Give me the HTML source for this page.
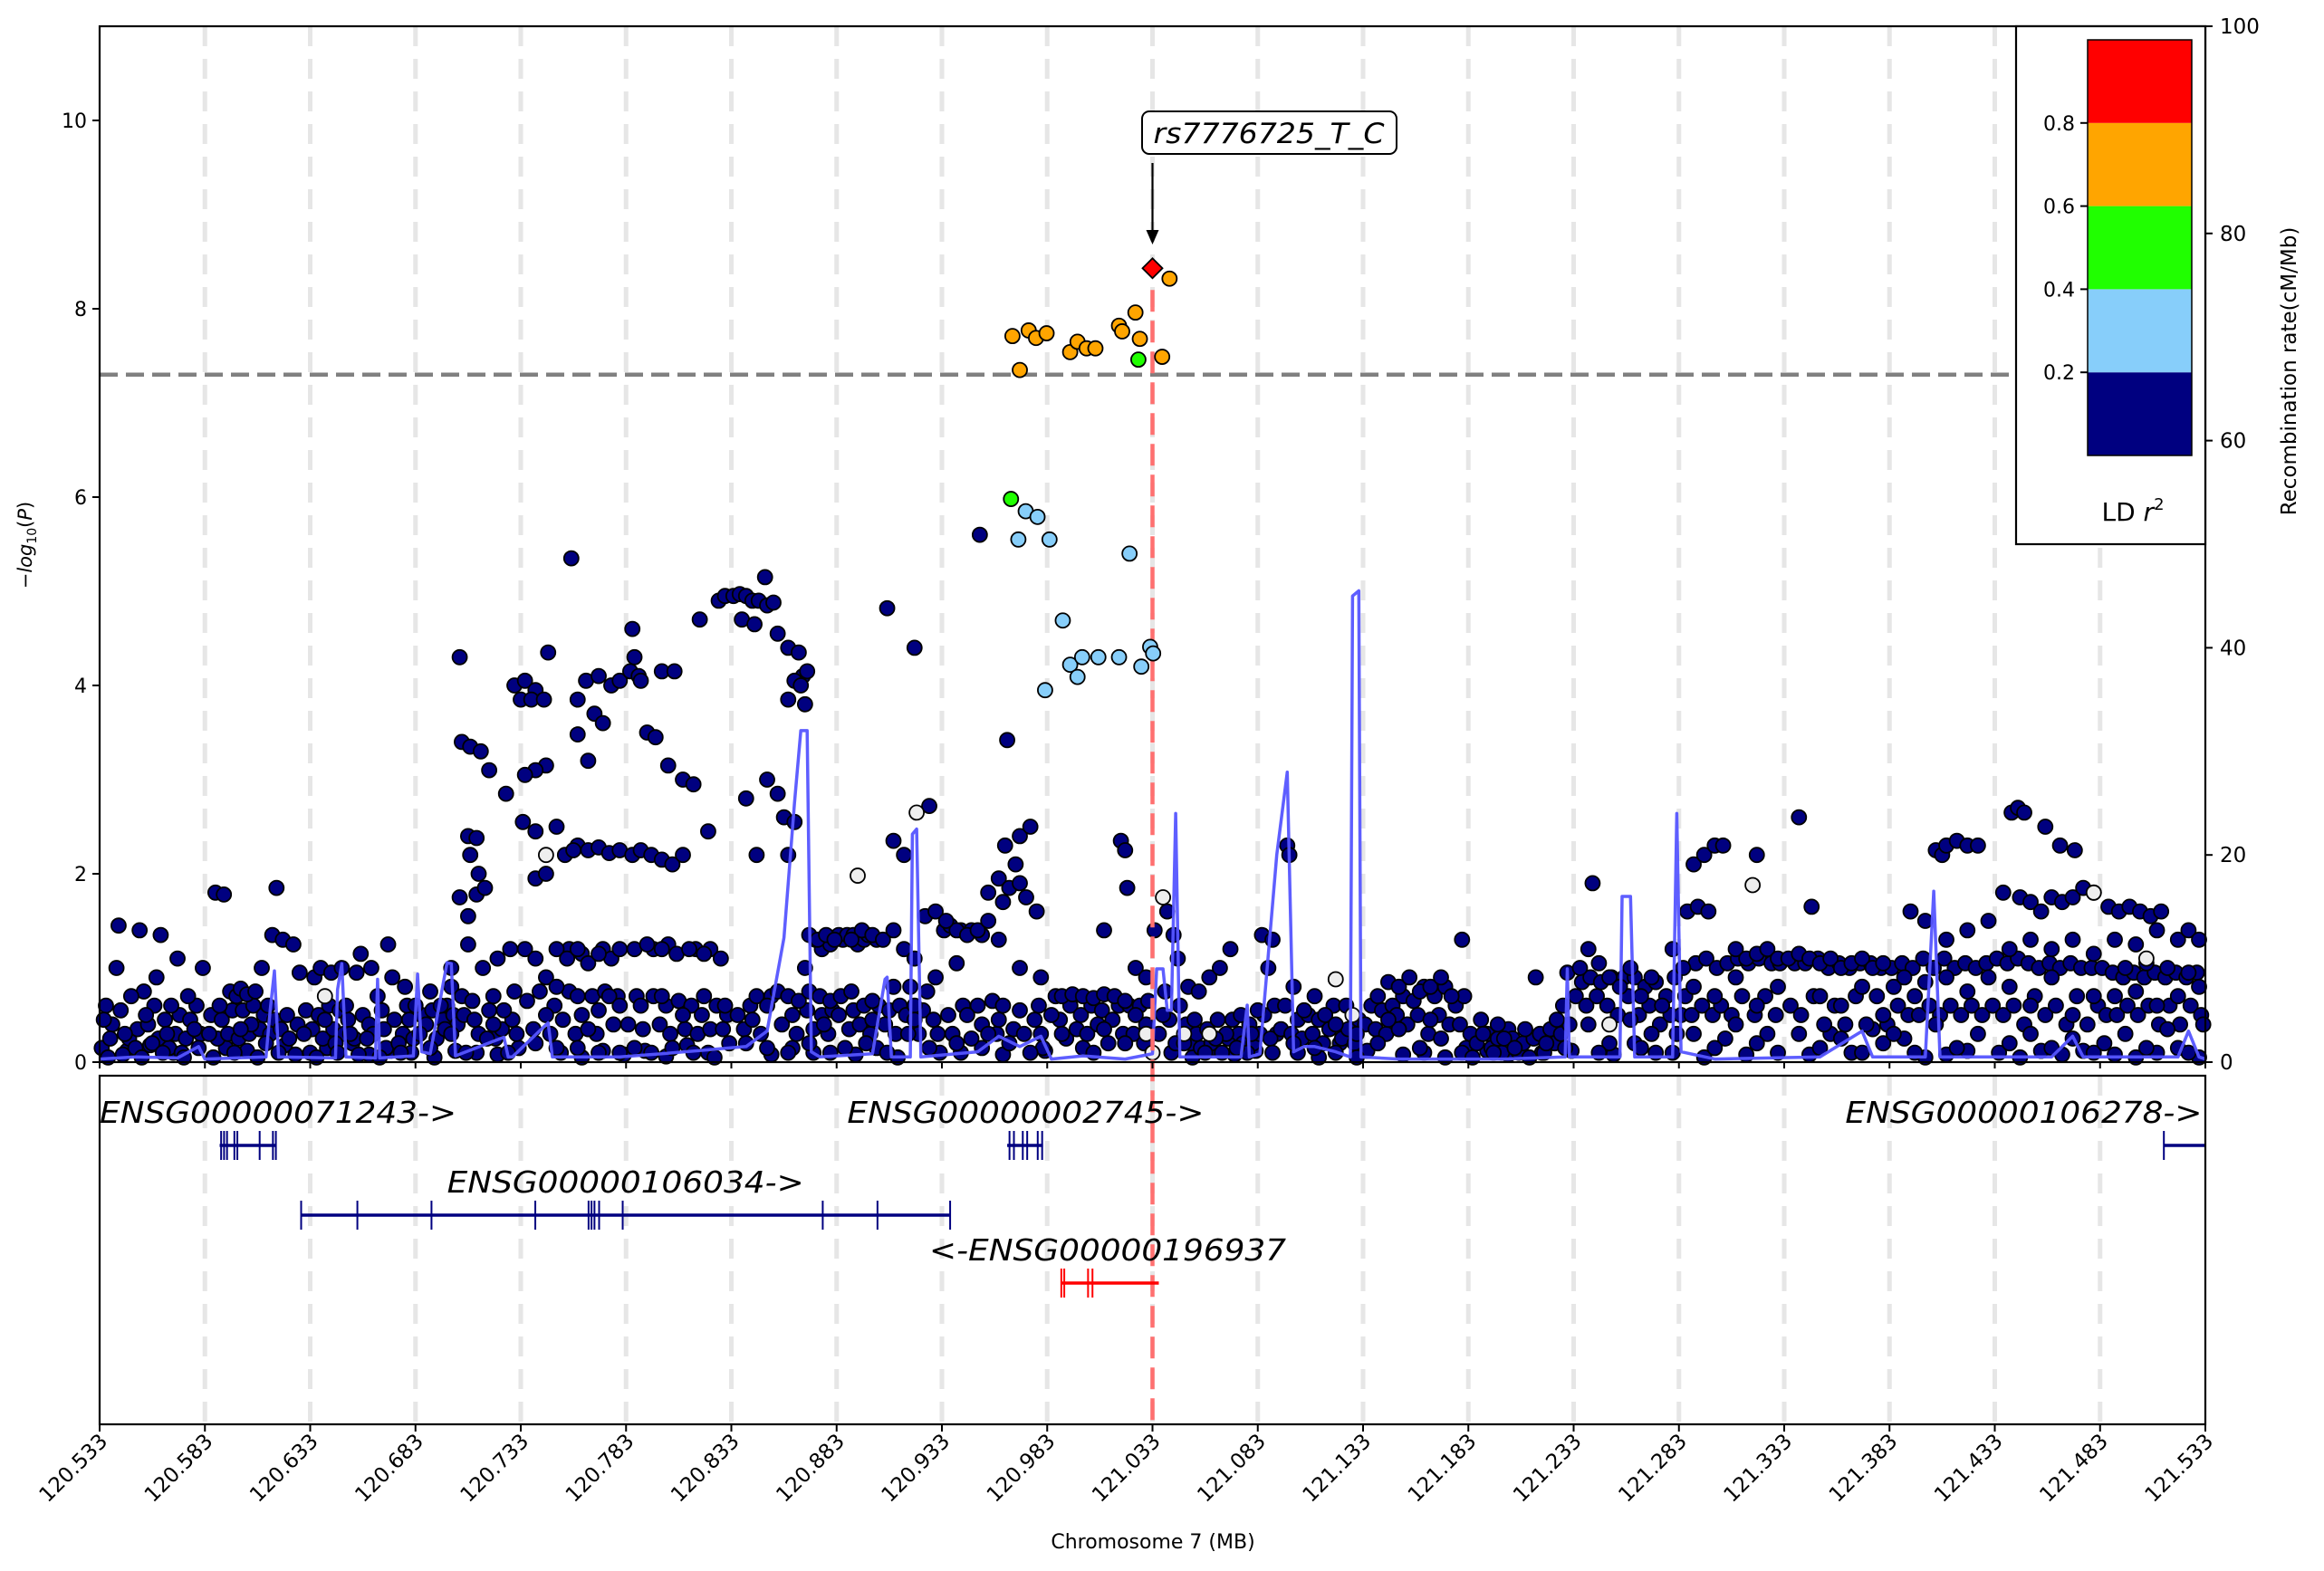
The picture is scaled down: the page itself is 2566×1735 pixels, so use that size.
<!DOCTYPE html>
<html><head><meta charset="utf-8"><style>
html,body{margin:0;padding:0;background:#fff;}
svg{display:block;font-family:"DejaVu Sans","Liberation Sans",sans-serif;}
</style></head><body>
<svg id="chart" width="2566" height="1735" viewBox="0 0 2566 1735" xmlns="http://www.w3.org/2000/svg">
<g id="grid"></g>
<g id="threshold"></g>
<g id="navy"></g>
<g id="recomb"></g>
<g id="colored"></g>
<g id="genes"></g>
<g id="axes"></g>
</svg>
<script>
const xTicks = ["120.533","120.583","120.633","120.683","120.733","120.783","120.833","120.883","120.933","120.983","121.033","121.083","121.133","121.183","121.233","121.283","121.333","121.383","121.433","121.483","121.533"];
const yTicks = [0,2,4,6,8,10];
const rTicks = [0,20,40,60,80,100];
const cbTicks = [0.2,0.4,0.6,0.8];
const threshold = 7.3;
const leadSnp = [121.033,8.43];
const leadLabel = "rs7776725_T_C";
const orangeSnps = [[120.9665,7.71],[120.9742,7.77],[120.9777,7.69],[120.9827,7.74],[120.970,7.35],[120.9939,7.54],[120.9974,7.65],[121.0017,7.58],[121.0059,7.58],[121.0171,7.82],[121.0186,7.76],[121.0249,7.96],[121.027,7.68],[121.0376,7.49],[121.0411,8.32]];
const greenSnps = [[120.9658,5.98],[121.0263,7.46]];
const lightBlueSnps = [[120.9728,5.85],[120.9784,5.79],[120.9841,5.55],[120.9693,5.55],[120.9904,4.69],[120.9939,4.22],[120.9974,4.09],[120.9996,4.30],[121.0073,4.30],[120.982,3.95],[121.0171,4.30],[121.0277,4.20],[121.0319,4.41],[121.0333,4.34],[121.0221,5.40]];
const whiteSnps = [[120.921,2.65],[120.893,1.98],[120.745,2.2],[120.64,0.7],[121.03,0.3],[121.033,0.1],[121.038,1.75],[121.048,0.3],[121.12,0.88],[121.128,0.5],[121.318,1.88],[121.48,1.8],[121.505,1.1],[121.06,0.3],[121.25,0.4]];
const navySnps = [
[120.535,0.45],[120.538,0.25],[120.541,1.0],[120.542,1.45],[120.545,0.3],[120.548,0.7],[120.55,0.15],[120.552,1.4],[120.555,0.5],[120.558,0.2],[120.56,0.9],[120.562,1.35],[120.565,0.3],[120.567,0.6],[120.57,1.1],[120.572,0.1],[120.575,0.7],[120.578,0.35],[120.58,0.15],[120.582,1.0],[120.537,0.05],[120.544,0.08],[120.553,0.05],[120.563,0.1],[120.573,0.05],
[120.585,0.3],[120.588,1.8],[120.592,1.78],[120.59,0.6],[120.595,0.75],[120.598,0.7],[120.6,0.78],[120.603,0.72],[120.605,0.4],[120.607,0.75],[120.61,1.0],[120.612,0.2],[120.615,1.35],[120.617,1.85],[120.62,1.3],[120.622,0.5],[120.625,1.25],[120.628,0.95],[120.63,0.3],[120.587,0.05],[120.597,0.1],[120.608,0.05],[120.618,0.1],[120.626,0.08],[120.6,0.35],[120.613,0.6],
[120.635,0.9],[120.638,1.0],[120.64,0.45],[120.643,0.95],[120.645,0.2],[120.648,1.0],[120.65,0.6],[120.652,0.3],[120.655,0.95],[120.657,1.15],[120.66,0.25],[120.662,1.0],[120.665,0.7],[120.668,0.35],[120.67,1.25],[120.672,0.9],[120.675,0.2],[120.678,0.8],[120.68,0.45],[120.636,0.05],[120.646,0.1],[120.656,0.08],[120.666,0.05],[120.676,0.1],[120.683,0.6],
[120.704,4.3],[120.705,3.4],[120.709,3.35],[120.714,3.3],[120.718,3.1],[120.708,2.4],[120.712,2.38],[120.709,2.2],[120.704,1.75],[120.712,1.78],[120.716,1.85],[120.713,2.0],[120.708,1.55],[120.708,1.25],[120.715,1.0],[120.7,1.0],[120.69,0.75],[120.695,0.6],[120.7,0.8],[120.705,0.7],[120.71,0.65],[120.72,0.7],[120.725,0.55],[120.73,0.75],[120.685,0.3],[120.69,0.15],[120.697,0.35],[120.707,0.1],[120.717,0.25],[120.727,0.1],[120.722,1.1],[120.728,1.2],[120.7,0.3],[120.72,0.4],
[120.73,4.0],[120.735,4.05],[120.74,3.95],[120.733,3.85],[120.738,3.85],[120.744,3.85],[120.746,4.35],[120.757,5.35],[120.76,3.85],[120.76,3.48],[120.764,4.05],[120.768,3.7],[120.772,3.6],[120.776,4.0],[120.78,4.05],[120.77,4.1],[120.765,3.2],[120.745,3.15],[120.74,3.1],[120.735,3.05],[120.726,2.85],[120.734,2.55],[120.74,2.45],[120.75,2.5],[120.76,2.3],[120.765,2.25],[120.77,2.28],[120.775,2.22],[120.78,2.25],[120.754,2.2],[120.758,2.25],[120.74,1.95],[120.745,2.0],[120.75,1.2],[120.755,1.1],[120.76,1.2],[120.765,1.05],[120.77,1.15],[120.78,1.2],[120.735,1.2],[120.74,1.1],[120.745,0.9],[120.75,0.8],[120.76,0.7],[120.77,0.55],[120.775,0.7],[120.78,0.6],[120.74,0.2],[120.75,0.15],[120.76,0.15],[120.77,0.1],[120.78,0.1],[120.745,0.5],[120.765,0.35],
[120.785,4.15],[120.787,4.3],[120.789,4.1],[120.79,4.05],[120.786,4.6],[120.793,3.5],[120.797,3.45],[120.8,4.15],[120.806,4.15],[120.81,3.0],[120.803,3.15],[120.815,2.95],[120.818,4.7],[120.822,2.45],[120.827,4.9],[120.83,4.95],[120.786,2.2],[120.79,2.25],[120.795,2.2],[120.8,2.15],[120.805,2.1],[120.81,2.2],[120.787,1.2],[120.793,1.25],[120.8,1.2],[120.807,1.15],[120.813,1.2],[120.82,1.15],[120.828,1.1],[120.79,0.6],[120.8,0.7],[120.81,0.5],[120.82,0.7],[120.83,0.6],[120.787,0.15],[120.795,0.1],[120.805,0.15],[120.815,0.1],[120.825,0.05],[120.832,0.2],
[120.834,4.95],[120.837,4.97],[120.84,4.95],[120.843,4.9],[120.846,4.9],[120.85,4.85],[120.853,4.88],[120.849,5.15],[120.838,4.7],[120.855,4.55],[120.844,4.65],[120.86,4.4],[120.865,4.35],[120.867,4.1],[120.869,4.15],[120.863,4.05],[120.866,4.0],[120.86,3.85],[120.868,3.8],[120.85,3.0],[120.855,2.85],[120.858,2.6],[120.863,2.55],[120.84,2.8],[120.845,2.2],[120.86,2.2],[120.87,1.35],[120.874,1.3],[120.878,1.35],[120.882,1.3],[120.868,1.0],[120.845,0.7],[120.85,0.6],[120.855,0.75],[120.86,0.7],[120.865,0.65],[120.87,0.75],[120.875,0.7],[120.88,0.65],[120.84,0.2],[120.85,0.15],[120.86,0.1],[120.87,0.2],[120.88,0.1],[120.843,0.45],[120.877,0.4],
[120.907,4.82],[120.92,4.4],[120.927,2.72],[120.91,2.35],[120.915,2.2],[120.895,1.4],[120.9,1.35],[120.905,1.3],[120.89,1.3],[120.91,1.4],[120.915,1.2],[120.925,1.55],[120.93,1.6],[120.92,1.1],[120.885,0.7],[120.89,0.75],[120.9,0.65],[120.91,0.8],[120.92,0.6],[120.93,0.9],[120.887,0.15],[120.897,0.2],[120.907,0.1],[120.917,0.3],[120.927,0.15],[120.9,0.45],[120.92,0.45],
[120.951,5.6],[120.964,3.42],[120.97,2.4],[120.963,2.3],[120.975,2.5],[120.968,2.1],[120.96,1.95],[120.965,1.85],[120.97,1.9],[120.955,1.8],[120.962,1.7],[120.973,1.75],[120.978,1.6],[120.94,1.4],[120.945,1.35],[120.95,1.4],[120.955,1.5],[120.96,1.3],[120.935,1.5],[120.94,1.05],[120.95,0.6],[120.955,0.3],[120.96,0.45],[120.965,0.2],[120.97,0.55],[120.975,0.1],[120.98,0.3],[120.94,0.2],[120.945,0.5],[120.97,1.0],[120.98,0.9],
[120.99,0.7],[120.995,0.72],[121.0,0.7],[121.005,0.68],[121.01,0.72],[121.015,0.7],[121.02,0.65],[121.018,2.35],[121.02,2.25],[121.021,1.85],[121.01,1.4],[121.025,1.0],[121.03,0.9],[120.99,0.3],[121.0,0.15],[121.01,0.35],[121.02,0.2],[121.03,0.4],[120.985,0.5],[121.005,0.1],[121.025,0.5],
[121.034,1.4],[121.04,1.6],[121.043,1.35],[121.045,1.1],[121.05,0.8],[121.055,0.75],[121.06,0.9],[121.065,1.0],[121.07,1.2],[121.075,0.5],[121.08,0.3],[121.038,0.5],[121.048,0.2],[121.058,0.1],[121.068,0.3],[121.078,0.1],[121.053,0.45],[121.063,0.25],[121.073,0.15],[121.083,0.55],
[121.097,2.3],[121.098,2.2],[121.085,1.35],[121.09,1.3],[121.088,1.0],[121.1,0.8],[121.105,0.55],[121.11,0.7],[121.115,0.5],[121.12,0.4],[121.125,0.6],[121.13,0.3],[121.09,0.1],[121.1,0.2],[121.11,0.15],[121.12,0.1],[121.13,0.05],
[121.14,0.7],[121.145,0.85],[121.15,0.8],[121.155,0.9],[121.16,0.75],[121.165,0.8],[121.17,0.9],[121.175,0.7],[121.18,1.3],[121.14,0.2],[121.15,0.35],[121.16,0.15],[121.17,0.25],[121.18,0.1],[121.145,0.45],[121.165,0.45],
[121.19,0.3],[121.195,0.1],[121.2,0.25],[121.205,0.15],[121.21,0.35],[121.215,0.9],[121.22,0.2],[121.225,0.45],[121.23,0.95],[121.185,0.05],[121.197,0.4],[121.212,0.05],[121.228,0.6],
[121.236,1.0],[121.24,1.2],[121.242,1.9],[121.245,1.05],[121.25,0.9],[121.255,0.8],[121.26,1.0],[121.265,0.7],[121.27,0.9],[121.275,0.6],[121.28,1.2],[121.24,0.4],[121.25,0.2],[121.26,0.45],[121.27,0.3],[121.28,0.1],[121.245,0.1],[121.265,0.15],
[121.29,2.1],[121.295,2.2],[121.3,2.3],[121.304,2.3],[121.32,2.2],[121.287,1.6],[121.292,1.65],[121.297,1.6],[121.31,1.2],[121.315,1.1],[121.32,1.15],[121.325,1.2],[121.33,1.1],[121.285,1.0],[121.29,0.8],[121.3,0.7],[121.31,0.9],[121.32,0.6],[121.33,0.8],[121.29,0.3],[121.3,0.15],[121.31,0.4],[121.32,0.2],[121.33,0.1],
[121.34,2.6],[121.346,1.65],[121.335,1.1],[121.34,1.15],[121.345,1.1],[121.35,1.05],[121.355,1.1],[121.36,1.0],[121.365,1.05],[121.37,1.1],[121.375,1.0],[121.38,1.05],[121.35,0.7],[121.36,0.6],[121.37,0.8],[121.38,0.5],[121.34,0.3],[121.35,0.15],[121.36,0.25],[121.37,0.1],[121.38,0.2],
[121.405,2.25],[121.408,2.2],[121.41,2.3],[121.415,2.35],[121.42,2.3],[121.425,2.3],[121.393,1.6],[121.4,1.5],[121.41,1.3],[121.42,1.4],[121.43,1.5],[121.385,0.8],[121.39,0.9],[121.395,0.7],[121.4,0.85],[121.41,0.9],[121.42,0.75],[121.43,0.9],[121.385,0.3],[121.395,0.1],[121.405,0.4],[121.415,0.15],[121.425,0.3],
[121.441,2.65],[121.444,2.7],[121.447,2.65],[121.457,2.5],[121.464,2.3],[121.471,2.25],[121.437,1.8],[121.445,1.75],[121.45,1.7],[121.455,1.6],[121.46,1.75],[121.465,1.7],[121.47,1.75],[121.475,1.85],[121.48,1.8],[121.44,1.2],[121.45,1.3],[121.46,1.2],[121.47,1.3],[121.48,1.15],[121.44,0.8],[121.45,0.6],[121.46,0.9],[121.47,0.5],[121.48,0.7],[121.44,0.2],[121.45,0.3],[121.46,0.15],[121.47,0.25],[121.48,0.1],
[121.487,1.65],[121.492,1.6],[121.497,1.65],[121.502,1.6],[121.507,1.55],[121.512,1.6],[121.49,1.3],[121.5,1.25],[121.51,1.4],[121.52,1.3],[121.525,1.4],[121.53,1.3],[121.495,1.0],[121.505,1.05],[121.515,1.0],[121.525,0.95],[121.49,0.7],[121.5,0.75],[121.51,0.6],[121.52,0.7],[121.53,0.8],[121.485,0.2],[121.495,0.3],[121.505,0.15],[121.515,0.35],[121.525,0.1],[121.532,0.4]
];
const lowBandSnps = [[120.546,0.12],[120.557,0.18],[120.568,0.1],[120.593,0.15],[120.603,0.12],[120.621,0.18],[120.633,0.1],[120.641,0.15],[120.653,0.2],[120.661,0.08],[120.671,0.12],[120.681,0.1],[120.692,0.05],[120.702,0.12],[120.712,0.1],[120.722,0.08],[120.732,0.15],[120.752,0.1],[120.762,0.05],[120.772,0.12],[120.782,0.08],[120.792,0.12],[120.802,0.06],[120.812,0.18],[120.822,0.1],[120.852,0.08],[120.862,0.15],[120.872,0.1],[120.892,0.08],[120.902,0.15],[120.912,0.05],[120.932,0.1],[120.942,0.1],[120.952,0.15],[120.962,0.08],[120.982,0.12],[121.042,0.1],[121.052,0.05],[121.062,0.15],[121.072,0.08],[121.082,0.12],[121.092,0.3],[121.102,0.1],[121.112,0.05],[121.122,0.2],[121.135,0.12],[121.152,0.08],[121.162,0.1],[121.172,0.05],[121.182,0.15],[121.192,0.12],[121.202,0.08],[121.218,0.1],[121.232,0.12],[121.252,0.08],[121.262,0.2],[121.272,0.1],[121.282,0.3],[121.295,0.05],[121.305,0.25],[121.315,0.08],[121.325,0.3],[121.345,0.08],[121.355,0.3],[121.365,0.1],[121.375,0.35],[121.39,0.25],[121.4,0.05],[121.41,0.08],[121.42,0.12],[121.435,0.1],[121.445,0.05],[121.455,0.12],[121.465,0.08],[121.475,0.12],[121.49,0.08],[121.5,0.05],[121.51,0.1],[121.52,0.15],[121.53,0.05]];
const denseSnps = [
[120.534,0.15],[120.536,0.6],[120.539,0.4],[120.543,0.55],[120.547,0.25],[120.551,0.35],[120.554,0.75],[120.556,0.4],[120.559,0.6],[120.561,0.25],[120.564,0.45],[120.566,0.15],[120.569,0.3],[120.571,0.5],[120.574,0.25],[120.576,0.45],[120.579,0.6],[120.581,0.3],
[120.586,0.5],[120.589,0.25],[120.591,0.45],[120.594,0.3],[120.596,0.55],[120.599,0.25],[120.601,0.55],[120.604,0.3],[120.606,0.6],[120.609,0.35],[120.611,0.5],[120.614,0.3],[120.616,0.45],[120.619,0.35],[120.623,0.25],[120.627,0.4],[120.631,0.55],
[120.634,0.35],[120.637,0.5],[120.639,0.25],[120.642,0.6],[120.644,0.35],[120.647,0.55],[120.649,0.3],[120.651,0.45],[120.654,0.25],[120.658,0.5],[120.661,0.4],[120.663,0.3],[120.667,0.55],[120.669,0.15],[120.673,0.45],[120.677,0.3],[120.679,0.6],[120.682,0.25],
[120.686,0.5],[120.688,0.4],[120.691,0.55],[120.693,0.25],[120.696,0.45],[120.698,0.6],[120.701,0.5],[120.703,0.4],[120.706,0.5],[120.711,0.45],[120.713,0.3],[120.718,0.55],[120.721,0.25],[120.724,0.35],[120.729,0.45],[120.731,0.3],
[120.736,0.65],[120.739,0.35],[120.742,0.75],[120.747,0.3],[120.749,0.6],[120.753,0.45],[120.756,0.75],[120.759,0.3],[120.762,0.5],[120.767,0.7],[120.769,0.3],[120.773,0.75],[120.777,0.4],[120.779,0.7],[120.756,1.2],[120.762,1.15],[120.772,1.2],[120.776,1.1],
[120.784,0.4],[120.788,0.7],[120.791,0.35],[120.796,0.7],[120.799,0.4],[120.802,0.6],[120.804,0.3],[120.808,0.65],[120.811,0.35],[120.814,0.6],[120.817,0.3],[120.819,0.5],[120.823,0.35],[120.826,0.6],[120.829,0.35],[120.831,0.5],[120.796,1.2],[120.803,1.25],[120.816,1.2],[120.823,1.2],
[120.836,0.5],[120.839,0.35],[120.842,0.6],[120.847,0.3],[120.852,0.7],[120.857,0.4],[120.862,0.5],[120.864,0.3],[120.869,0.55],[120.872,0.35],[120.876,0.5],[120.879,0.3],[120.881,0.55],[120.873,1.3],[120.876,1.2],[120.880,1.25],
[120.884,1.35],[120.886,1.3],[120.888,1.35],[120.891,1.35],[120.893,1.25],[120.896,1.3],[120.898,1.35],[120.902,1.3],[120.884,0.5],[120.889,0.35],[120.891,0.55],[120.894,0.4],[120.896,0.6],[120.899,0.3],[120.903,0.6],[120.906,0.4],[120.908,0.55],[120.911,0.3],[120.913,0.6],[120.916,0.5],[120.918,0.8],[120.922,0.3],[120.924,0.55],[120.926,0.75],[120.929,0.45],[120.931,0.3],
[120.934,1.4],[120.937,1.45],[120.942,1.4],[120.947,1.4],[120.952,1.35],[120.936,0.5],[120.938,0.3],[120.943,0.6],[120.947,0.25],[120.952,0.4],[120.957,0.65],[120.959,0.3],[120.962,0.6],[120.967,0.35],[120.972,0.3],[120.977,0.45],[120.979,0.6],[120.981,0.15],
[120.987,0.7],[120.989,0.45],[120.992,0.25],[120.994,0.6],[120.997,0.35],[120.999,0.5],[121.002,0.3],[121.004,0.6],[121.007,0.4],[121.009,0.55],[121.012,0.2],[121.014,0.45],[121.017,0.6],[121.019,0.3],[121.022,0.6],[121.024,0.3],[121.027,0.6],[121.029,0.2],[121.031,0.65],
[121.036,0.3],[121.039,0.75],[121.041,0.45],[121.044,0.2],[121.046,0.6],[121.049,0.4],[121.051,0.2],[121.054,0.3],[121.056,0.15],[121.059,0.35],[121.061,0.2],[121.064,0.45],[121.066,0.1],[121.069,0.25],[121.071,0.45],[121.074,0.3],[121.076,0.2],[121.079,0.4],[121.081,0.2],
[121.084,0.3],[121.086,0.5],[121.089,0.25],[121.091,0.6],[121.094,0.35],[121.096,0.6],[121.099,0.3],[121.102,0.45],[121.104,0.25],[121.107,0.5],[121.109,0.3],[121.112,0.45],[121.114,0.2],[121.117,0.35],[121.119,0.6],[121.123,0.25],[121.126,0.35],[121.129,0.2],[121.131,0.45],
[121.134,0.4],[121.137,0.6],[121.139,0.35],[121.142,0.55],[121.144,0.3],[121.147,0.6],[121.149,0.5],[121.152,0.7],[121.154,0.4],[121.157,0.65],[121.159,0.5],[121.162,0.8],[121.164,0.3],[121.167,0.7],[121.169,0.5],[121.172,0.8],[121.174,0.4],[121.177,0.6],[121.179,0.4],[121.181,0.7],
[121.184,0.3],[121.187,0.2],[121.189,0.45],[121.192,0.3],[121.194,0.15],[121.197,0.25],[121.199,0.1],[121.202,0.35],[121.204,0.25],[121.207,0.1],[121.209,0.2],[121.214,0.25],[121.217,0.3],[121.219,0.1],[121.222,0.35],[121.224,0.2],[121.227,0.3],[121.229,0.15],[121.231,0.4],
[121.234,0.7],[121.237,0.85],[121.239,0.6],[121.241,0.9],[121.244,0.7],[121.246,0.85],[121.249,0.6],[121.251,0.9],[121.254,0.5],[121.257,0.9],[121.259,0.7],[121.262,0.9],[121.264,0.5],[121.267,0.8],[121.269,0.6],[121.272,0.85],[121.274,0.4],[121.277,0.7],[121.279,0.5],[121.281,0.9],
[121.284,0.5],[121.286,0.7],[121.289,0.5],[121.291,1.05],[121.294,0.6],[121.296,1.1],[121.299,0.5],[121.301,1.0],[121.303,0.6],[121.306,1.05],[121.308,0.5],[121.311,1.1],[121.313,0.7],[121.316,1.05],[121.319,0.5],[121.321,1.1],[121.324,0.7],[121.327,1.05],[121.329,0.5],[121.331,1.05],
[121.336,0.6],[121.338,1.05],[121.341,0.5],[121.343,1.05],[121.347,0.7],[121.349,1.1],[121.352,0.4],[121.354,1.0],[121.357,0.6],[121.359,1.05],[121.362,0.4],[121.364,1.0],[121.367,0.7],[121.369,1.05],[121.372,0.4],[121.374,1.05],[121.377,0.7],[121.379,1.0],[121.382,0.4],
[121.384,1.0],[121.387,0.6],[121.389,1.05],[121.392,0.5],[121.394,1.0],[121.397,0.5],[121.399,1.1],[121.402,0.6],[121.404,1.0],[121.407,0.5],[121.409,1.1],[121.412,0.6],[121.414,1.0],[121.417,0.5],[121.419,1.05],[121.422,0.6],[121.424,1.0],[121.427,0.5],[121.429,1.05],[121.432,0.6],
[121.434,1.1],[121.437,0.5],[121.439,1.05],[121.442,0.6],[121.444,1.1],[121.447,0.4],[121.449,1.05],[121.452,0.7],[121.454,1.0],[121.457,0.5],[121.459,1.05],[121.462,0.6],[121.464,1.0],[121.467,0.4],[121.469,1.05],[121.472,0.7],[121.474,1.0],[121.477,0.4],[121.479,1.0],[121.482,0.6],
[121.484,1.0],[121.486,0.5],[121.489,0.95],[121.491,0.5],[121.494,0.9],[121.496,0.6],[121.499,0.95],[121.501,0.5],[121.504,0.9],[121.506,0.6],[121.509,0.95],[121.511,0.4],[121.514,0.9],[121.516,0.6],[121.519,0.95],[121.521,0.4],[121.524,0.9],[121.526,0.6],[121.529,0.95],[121.531,0.5]
];
const recPos = [120.533,120.55,120.57,120.58,120.583,120.612,120.614,120.616,120.618,120.645,120.646,120.648,120.650,120.664,120.665,120.666,120.682,120.684,120.686,120.69,120.698,120.700,120.702,120.725,120.727,120.729,120.746,120.748,120.750,120.78,120.8,120.84,120.85,120.858,120.863,120.866,120.869,120.871,120.875,120.9,120.906,120.907,120.909,120.918,120.919,120.921,120.923,120.95,120.96,120.97,120.98,120.985,121.0,121.02,121.033,121.035,121.038,121.040,121.042,121.044,121.046,121.075,121.078,121.079,121.084,121.092,121.097,121.1,121.105,121.11,121.12,121.127,121.128,121.131,121.132,121.15,121.2,121.229,121.230,121.231,121.255,121.256,121.260,121.262,121.280,121.282,121.284,121.3,121.35,121.37,121.375,121.4,121.404,121.407,121.43,121.46,121.47,121.475,121.49,121.52,121.525,121.53,121.533];
const recRate = [0.3,0.5,0.4,1.5,0.3,0.5,5,8.8,0.5,0.4,7,9.5,0.5,0.4,8,0.4,0.6,8.5,1,0.8,9.6,9.5,0.6,2.4,0.5,0.5,3.8,0.5,0.5,0.5,0.8,1.5,3,12,25,32,32,1,0.5,0.8,8,8.2,0.5,0.5,22,22.5,0.5,1,2.5,1.5,2.5,0.3,0.6,0.3,0.8,9,9,5,5,24,0.5,0.5,5.5,0.5,0.8,20,28,1,1.5,1.5,1,0.5,45,45.5,0.5,0.3,0.3,0.5,9,0.5,0.5,16,16,0.5,0.5,24,1,0.3,0.5,3,0.5,0.5,16.5,0.5,0.5,0.5,2.5,0.5,0.5,0.5,3,0.5,0.3];
const geneNames = ["ENSG00000071243->","ENSG00000106034->","ENSG00000002745->","<-ENSG00000196937","ENSG00000106278->"];
const geneStart = [120.590,120.629,120.964,120.990,121.513];
const geneEnd = [120.617,120.937,120.981,121.036,121.533];
const geneRow = [0,1,0,2,0];
const geneLabelX = [120.533,120.698,120.888,120.927,121.362];
const geneExons = [[120.5907,120.5921,120.5935,120.597,120.5984,120.609,120.6153,120.6167],[120.6287,120.6554,120.6906,120.7399,120.7652,120.7666,120.768,120.7702,120.7814,120.8764,120.9024,120.9369],[120.9651,120.9672,120.9714,120.9735,120.9785,120.9806],[120.9897,120.9911,121.0024,121.0045],[121.5133]];
const ldBins = [0,0.2,0.4,0.6,0.8,1.0];
const ldColors = ["#000080","#87cefa","#20ff00","#ffa500","#ff0000"];

const NS="http://www.w3.org/2000/svg";
const L=110,R=2435,T=29,B=1173,GT=1188,GB=1573;
const X0=120.533,X1=121.533,YMAX=11;
const sx=v=>L+(v-X0)/(X1-X0)*(R-L);
const sy=v=>B-v/YMAX*(B-T);
const sr=v=>B-v/100*(B-T);
function el(parent,tag,attrs,text){const e=document.createElementNS(NS,tag);for(const k in attrs)e.setAttribute(k,attrs[k]);if(text!==undefined)e.textContent=text;parent.appendChild(e);return e;}
const gGrid=document.getElementById('grid'),gTh=document.getElementById('threshold'),gNavy=document.getElementById('navy'),gRec=document.getElementById('recomb'),gCol=document.getElementById('colored'),gGenes=document.getElementById('genes'),gAx=document.getElementById('axes');

xTicks.forEach((t,i)=>{if(i===0||i===xTicks.length-1)return;const x=sx(parseFloat(t));
 let l=el(gGrid,'line',{x1:x,x2:x,y1:T,y2:B,stroke:'#e6e6e6','stroke-width':5,'stroke-dasharray':'22,14'});
 
 
 let l2=el(gGrid,'line',{x1:x,x2:x,y1:GT,y2:GB,stroke:'#e6e6e6','stroke-width':5,'stroke-dasharray':'22,14'});
 
 
});
let th=el(gTh,'line',{x1:L,x2:R,y1:sy(threshold),y2:sy(threshold),stroke:'#808080','stroke-width':4.5,'stroke-dasharray':'20,9'});



function dot(g,p,fill,name){const c=el(g,'circle',{cx:sx(p[0]),cy:sy(p[1]),r:8,fill:fill,stroke:'#000','stroke-width':1.8});
 
 }
lowBandSnps.forEach(p=>dot(gNavy,p,'#000080','snp-point'));
denseSnps.forEach(p=>dot(gNavy,p,'#000080','snp-point'));
navySnps.forEach(p=>dot(gNavy,p,'#000080','snp-point'));
whiteSnps.forEach(p=>dot(gNavy,p,'#eeeeee','snp-point-no-ld'));

let d='';recPos.forEach((p,i)=>{d+=(i?'L':'M')+sx(p).toFixed(1)+','+sr(recRate[i]).toFixed(1);});
let rl=el(gRec,'path',{d:d,fill:'none',stroke:'#5555ff','stroke-width':3.5,'stroke-linejoin':'round','stroke-opacity':0.95});



let vl=el(gCol,'line',{x1:sx(leadSnp[0]),x2:sx(leadSnp[0]),y1:sy(8.2),y2:GB,stroke:'#ff7070','stroke-width':4.5,'stroke-dasharray':'24,10'});


lightBlueSnps.forEach(p=>dot(gCol,p,'#87cefa','snp-point-ld-0.2'));
greenSnps.forEach(p=>dot(gCol,p,'#20ff00','snp-point-ld-0.4'));
orangeSnps.forEach(p=>dot(gCol,p,'#ffa500','snp-point-ld-0.6'));
{const cx=sx(leadSnp[0]),cy=sy(leadSnp[1]);const dm=el(gCol,'path',{d:`M${cx},${cy-11}L${cx+11},${cy}L${cx},${cy+11}L${cx-11},${cy}Z`,fill:'#ff0000',stroke:'#000','stroke-width':1.8});
 
 
 const ar=el(gCol,'line',{x1:cx,x2:cx,y1:180,y2:260,stroke:'#000','stroke-width':2.2});
 
 
 const ah=el(gCol,'path',{d:`M${cx-7},${254}L${cx+7},${254}L${cx},${270}Z`,fill:'#000'});
 
 
 const bx=el(gCol,'rect',{x:1261,y:123,width:281,height:47,rx:8,fill:'#fff',stroke:'#000','stroke-width':2});
 
 
 const tx=el(gCol,'text',{x:1401,y:158,'text-anchor':'middle','font-size':31,'font-style':'italic',textLength:255,lengthAdjust:'spacingAndGlyphs'},leadLabel);
 
 
}

const rowY=[1265,1342,1417];
geneNames.forEach((n,i)=>{const col=i===3?'#ff0000':'#000080';const y=rowY[geneRow[i]];
 const gl=el(gGenes,'line',{x1:sx(geneStart[i]),x2:sx(geneEnd[i]),y1:y,y2:y,stroke:col,'stroke-width':3.5});
 
 
 geneExons[i].forEach(e=>{const ex=el(gGenes,'line',{x1:sx(e),x2:sx(e),y1:y-16,y2:y+16,stroke:col,'stroke-width':2});
  
  });
 const t=el(gGenes,'text',{x:sx(geneLabelX[i]),y:y-25,'font-size':33,'font-style':'italic',textLength:394,lengthAdjust:'spacingAndGlyphs'},n);
 
 
});

let f1=el(gAx,'rect',{x:L,y:T,width:R-L,height:B-T,fill:'none',stroke:'#000','stroke-width':2.2});


let f2=el(gAx,'rect',{x:L,y:GT,width:R-L,height:GB-GT,fill:'none',stroke:'#000','stroke-width':2.2});


yTicks.forEach(v=>{const y=sy(v);el(gAx,'line',{x1:L-8,x2:L,y1:y,y2:y,stroke:'#000','stroke-width':2});
 const t=el(gAx,'text',{x:L-14,y:y+8,'text-anchor':'end','font-size':22},String(v));
 
 });
rTicks.forEach(v=>{const y=sr(v);el(gAx,'line',{x1:R,x2:R+8,y1:y,y2:y,stroke:'#000','stroke-width':2});
 const t=el(gAx,'text',{x:R+16,y:y+8,'font-size':23},String(v));
 
 });
xTicks.forEach(s=>{const x=sx(parseFloat(s));el(gAx,'line',{x1:x,x2:x,y1:GB,y2:GB+8,stroke:'#000','stroke-width':2});
 el(gAx,'line',{x1:x,x2:x,y1:B,y2:B+7,stroke:'#000','stroke-width':2});
 const t=el(gAx,'text',{x:x+10,y:GB+20,'text-anchor':'end','font-size':23,transform:`rotate(-45 ${x+10} ${GB+20})`},s);
 
 });
let xt=el(gAx,'text',{x:1273,y:1710,'text-anchor':'middle','font-size':22},'Chromosome 7 (MB)');


let yt=el(gAx,'text',{x:0,y:0,'text-anchor':'middle','font-size':21,transform:'translate(35 602) rotate(-90)'});
yt.innerHTML='−<tspan font-style="italic">log</tspan><tspan font-size="14" dy="5">10</tspan><tspan dy="-5">(</tspan><tspan font-style="italic">P</tspan>)';


let rt=el(gAx,'text',{x:0,y:0,'text-anchor':'middle','font-size':23,transform:'translate(2535 410) rotate(-90)'},'Recombination rate(cM/Mb)');



const lg=el(gAx,'rect',{x:2226,y:29,width:209,height:572,fill:'#fff',stroke:'#000','stroke-width':2.2});


const cbT=44,cbB=503,cbL=2305,cbR=2420;const cy=v=>cbB-v*(cbB-cbT);
ldColors.forEach((c,i)=>{const r=el(gAx,'rect',{x:cbL,y:cy(ldBins[i+1]),width:cbR-cbL,height:cy(ldBins[i])-cy(ldBins[i+1]),fill:c});
 
 });
el(gAx,'rect',{x:cbL,y:cbT,width:cbR-cbL,height:cbB-cbT,fill:'none',stroke:'#000','stroke-width':1.5});
cbTicks.forEach(v=>{const y=cy(v);el(gAx,'line',{x1:cbL-8,x2:cbL,y1:y,y2:y,stroke:'#000','stroke-width':2});
 const t=el(gAx,'text',{x:cbL-14,y:y+8,'text-anchor':'end','font-size':22},String(v));
 
 });
const lt=el(gAx,'text',{x:2355,y:575,'text-anchor':'middle','font-size':28});
lt.innerHTML='LD <tspan font-style="italic">r</tspan><tspan font-size="18" dy="-12">2</tspan>';


</script>
</body></html>
